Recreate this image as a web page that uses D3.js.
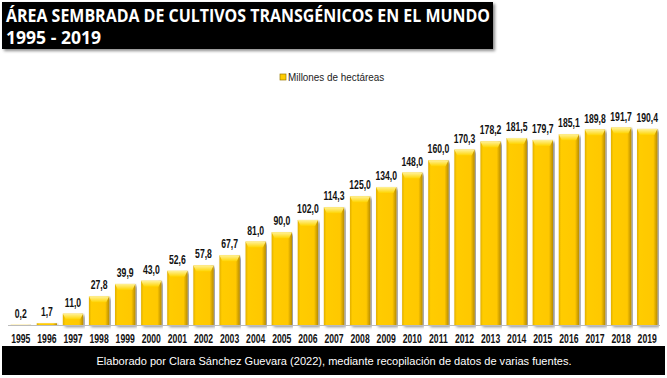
<!DOCTYPE html>
<html><head><meta charset="utf-8">
<script src="https://cdn.jsdelivr.net/npm/d3@7/dist/d3.min.js"></script>
<style>body{margin:0;background:#fff}svg{display:block}</style>
</head><body>
<script>
const years = ["1995","1996","1997","1998","1999","2000","2001","2002","2003","2004","2005","2006","2007","2008","2009","2010","2011","2012","2013","2014","2015","2016","2017","2018","2019"];
const values = [0.2,1.7,11.0,27.8,39.9,43.0,52.6,57.8,67.7,81.0,90.0,102.0,114.3,125.0,134.0,148.0,160.0,170.3,178.2,181.5,179.7,185.1,189.8,191.7,190.4];
const seriesName = "Millones de hectáreas";
const titleLines = ["ÁREA SEMBRADA DE CULTIVOS TRANSGÉNICOS EN EL MUNDO","1995 - 2019"];
const footer = "Elaborado  por Clara Sánchez Guevara (2022),  mediante  recopilación  de datos  de varias fuentes.";

const W=667,H=378;
const svg=d3.select("body").append("svg").attr("width",W).attr("height",H);
const defs=svg.append("defs");
const f=defs.append("filter").attr("id","sh").attr("x","-5%").attr("y","-20%").attr("width","110%").attr("height","150%");
f.append("feDropShadow").attr("dx",2).attr("dy",2).attr("stdDeviation",1.5).attr("flood-color","#000").attr("flood-opacity",0.45);
const g=defs.append("linearGradient").attr("id","bar").attr("x1","0").attr("x2","1").attr("y1","0").attr("y2","0");
[[0,"#E0AE00"],[0.12,"#FFCC00"],[0.8,"#FFC800"],[1,"#B88C00"]].forEach(d=>g.append("stop").attr("offset",d[0]).attr("stop-color",d[1]));
const gt=defs.append("linearGradient").attr("id","cap").attr("x1","0").attr("x2","0").attr("y1","0").attr("y2","1");
[[0,"#FFF29A"],[1,"#FFD400"]].forEach(d=>gt.append("stop").attr("offset",d[0]).attr("stop-color",d[1]));

// title box
svg.append("rect").attr("x",2).attr("y",2).attr("width",491).attr("height",47).attr("fill","#000").attr("filter","url(#sh)");
const tf="'Open Sans', 'Noto Sans', sans-serif";
svg.append("text").attr("x",6).attr("y",22).attr("fill","#fff").attr("font-family",tf).attr("font-weight","bold")
  .attr("font-size",18).attr("textLength",484).attr("lengthAdjust","spacingAndGlyphs").text(titleLines[0]);
svg.append("text").attr("x",6).attr("y",44).attr("fill","#fff").attr("font-family",tf).attr("font-weight","bold")
  .attr("font-size",18).attr("textLength",95).attr("lengthAdjust","spacingAndGlyphs").text(titleLines[1]);

// scales
const x=d3.scaleBand().domain(years).range([8,660]).paddingInner(0.22).paddingOuter(0.1);
const y=d3.scaleLinear().domain([0,200]).range([325,119]);
const nf="'Liberation Sans',Arial,sans-serif";
const K=0.72;

// legend
svg.append("rect").attr("x",280).attr("y",74).attr("width",6).attr("height",6).attr("fill","#FFCC00").attr("stroke","#9a7a00").attr("stroke-width",0.7);
svg.append("text").attr("transform","translate(288,81) scale(0.9,1)").attr("font-family",nf).attr("font-size",11).attr("fill","#222").text(seriesName);

const data=years.map((yr,i)=>({yr,v:values[i]}));
const bars=svg.append("g");
bars.selectAll("rect.b").data(data).join("rect").attr("class","b")
  .attr("x",d=>x(d.yr)).attr("y",d=>y(d.v)).attr("width",x.bandwidth()).attr("height",d=>y(0)-y(d.v))
  .attr("fill","url(#bar)").attr("filter","url(#sh)");
bars.selectAll("path.c").data(data.filter(d=>y(0)-y(d.v)>6)).join("path").attr("class","c")
  .attr("d",d=>{const x0=x(d.yr),w=x.bandwidth(),t=y(d.v),h=Math.min(6,(y(0)-t)/2);
    return `M${x0},${t}L${x0+w},${t}L${x0+w-3},${t+h}L${x0+3},${t+h}Z`;})
  .attr("fill","url(#cap)");

// axis line
svg.append("line").attr("x1",8).attr("x2",660).attr("y1",325.5).attr("y2",325.5).attr("stroke","#bbb").attr("stroke-width",1);

// value labels
svg.append("g").selectAll("text").data(data).join("text")
  .attr("transform",d=>`translate(${x(d.yr)+x.bandwidth()/2},${y(d.v)-7}) scale(${K},1)`).attr("text-anchor","middle")
  .attr("font-family",nf).attr("font-weight","bold").attr("font-size",12).attr("fill","#111")
  .text(d=>d.v.toFixed(1).replace(".",","));

// x axis
const ax=svg.append("g").attr("transform","translate(0,326)").call(d3.axisBottom(x).tickSize(0).tickPadding(0));
ax.select(".domain").remove();
ax.selectAll(".tick text").attr("y",0).attr("dy",0).attr("transform",`translate(0,17) scale(${K},1)`)
  .attr("font-family",nf).attr("font-weight","bold").attr("font-size",12).attr("fill","#111");

// footer
svg.append("rect").attr("x",2).attr("y",346).attr("width",663).attr("height",29).attr("fill","#000");
svg.append("text").attr("x",334).attr("y",365).attr("text-anchor","middle").attr("fill","#fff")
  .attr("font-family",nf).attr("font-size",11.5).attr("textLength",475).attr("lengthAdjust","spacingAndGlyphs").text(footer);
</script>
</body></html>
